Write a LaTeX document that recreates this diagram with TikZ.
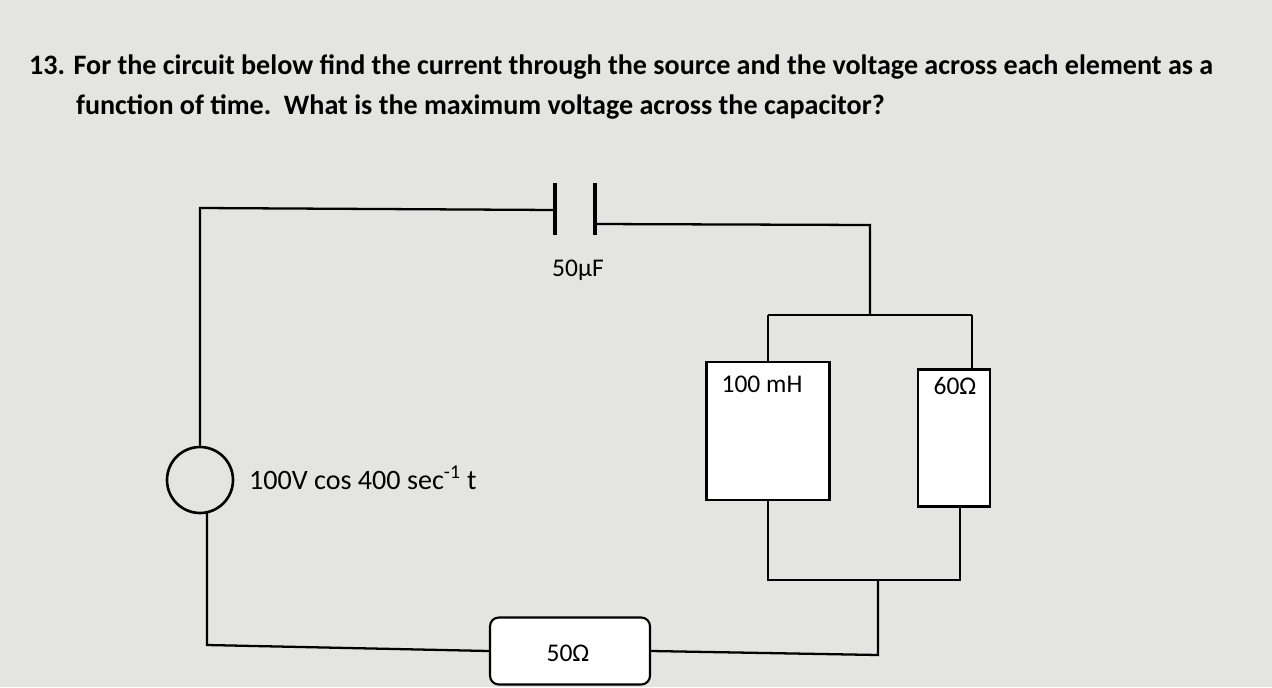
\documentclass[tikz,border=0pt]{standalone}
\usepackage{fontspec}
\setmainfont{Carlito}
\begin{document}
\begin{tikzpicture}[x=0.02cm,y=-0.02cm,line width=1.3pt,
  lbl/.style={font=\fontsize{14.5}{17}\selectfont},
  box/.style={draw,fill=white,line width=1.2pt}]
\fill[color={rgb,255:red,228;green,228;blue,226}] (0,0) rectangle (1272,687);
\useasboundingbox (0,0) rectangle (1272,687);
\node[anchor=base west,inner sep=0,font=\fontsize{16}{18}\bfseries] (t1) at (28,74) {13. For the circuit below find the current through the source and the voltage across each element as a};
\node[anchor=base west,inner sep=0,font=\fontsize{16}{18}\bfseries] (t2) at (75,114) {function of time.\ \ What is the maximum voltage across the capacitor?};
% source
\node[draw,circle,inner sep=0,minimum size=1.32cm,line width=1.5pt] (src) at (200,480) {};
\node[anchor=west,inner sep=0,font=\fontsize{16}{18}\selectfont] (srcl) at (248,478) {100V cos 400 sec\textsuperscript{-1} t};
% capacitor
\coordinate (cl) at (555,210);
\coordinate (cr) at (595,212);
\draw[line width=1.8pt] (555,183) -- (555,235);
\draw[line width=1.8pt] (595,183) -- (595,235);
\node[lbl] (cap) at (578,270) {50µF};
\draw (src.north) -- (200,208) -- (cl);
\draw (cr) -- (595,224) -- (870,225) -- (870,315);
\draw (768,315) -- (972,315);
% inductor & 60 ohm
\node[box,minimum width=2.46cm,minimum height=2.76cm] (L) at (768,431) {};
\node[lbl] (Ll) at (762,384) {100 mH};
\node[box,minimum width=1.44cm,minimum height=2.74cm] (R6) at (954,438) {};
\node[lbl] (R6l) at (955,386) {60Ω};
\coordinate (r6t) at (972,370);
\coordinate (r6b) at (960,507);
\draw (768,315) -- (L.north);
\draw (972,315) -- (r6t);
\draw (L.south) -- (768,580) -- (960,580) -- (r6b);
% 50 ohm
\node[box,rounded corners=5pt,minimum width=3.2cm,minimum height=1.34cm] (R5) at (570,651) {};
\node[lbl] (R5l) at (568,653) {50Ω};
\draw (878,580) -- (878,655) -- (R5.east);
\draw (R5.west) -- (207,645) -- (207,512);
\end{tikzpicture}
\end{document}
